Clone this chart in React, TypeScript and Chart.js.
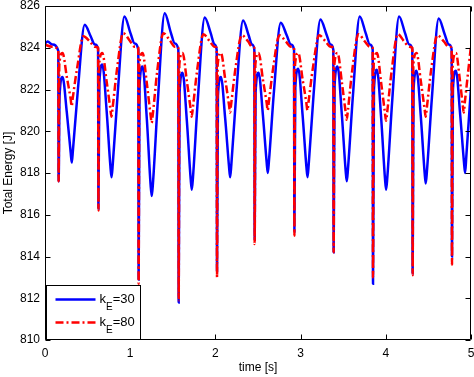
import React, { useEffect, useRef } from "react";
import { Chart, registerables } from "chart.js";

Chart.register(...registerables);

const FONT = '"Liberation Sans", Arial, Helvetica, sans-serif';

const xTickValues = [0, 1, 2, 3, 4, 5];
const yTickValues = [810, 812, 814, 816, 818, 820, 822, 824, 826];

const seriesLabels = ["30", "80"];

const blueTime = [
  0, 0.03, 0.09,
  0.156, 0.160, 0.171, 0.206, 0.256, 0.301, 0.314, 0.328, 0.386, 0.466, 0.536, 0.586,
  0.623, 0.627, 0.638, 0.673, 0.723, 0.768, 0.781, 0.795, 0.853, 0.933, 1.003, 1.053,
  1.095, 1.099, 1.110, 1.145, 1.195, 1.240, 1.253, 1.267, 1.325, 1.405, 1.475, 1.525,
  1.565, 1.569, 1.580, 1.615, 1.665, 1.710, 1.723, 1.737, 1.795, 1.875, 1.945, 1.990,
  2.015, 2.019, 2.030, 2.065, 2.115, 2.160, 2.173, 2.187, 2.245, 2.325, 2.390, 2.430,
  2.457, 2.461, 2.472, 2.507, 2.557, 2.602, 2.615, 2.629, 2.687, 2.767, 2.837, 2.887,
  2.923, 2.927, 2.938, 2.973, 3.023, 3.068, 3.081, 3.095, 3.153, 3.233, 3.303, 3.353,
  3.384, 3.388, 3.399, 3.434, 3.484, 3.529, 3.542, 3.556, 3.614, 3.694, 3.764, 3.814,
  3.846, 3.850, 3.861, 3.896, 3.946, 3.991, 4.004, 4.018, 4.076, 4.156, 4.226, 4.276,
  4.311, 4.315, 4.326, 4.361, 4.411, 4.456, 4.469, 4.483, 4.541, 4.621, 4.691, 4.741,
  4.773, 4.777, 4.788, 4.823, 4.873, 4.918, 4.931, 4.945, 5.0,
];

const blueEnergy = [
  824.2, 824.3, 824.15,
  823.85, 817.6, 821.7, 822.6, 820.9, 819.0, 818.5, 819.1, 822.0, 825.1, 824.55, 824.15,
  823.95, 816.3, 822.3, 823.2, 821.0, 818.3, 817.8, 818.4, 821.8, 825.5, 824.7, 824.2,
  823.9, 812.9, 822.2, 823.1, 820.6, 817.4, 816.9, 817.5, 821.5, 825.65, 824.75, 824.2,
  823.9, 811.8, 821.9, 822.8, 820.5, 817.7, 817.2, 817.8, 821.6, 825.45, 824.7, 824.15,
  823.9, 813.3, 821.7, 822.6, 820.6, 818.3, 817.8, 818.4, 821.8, 825.3, 824.6, 824.15,
  823.9, 814.8, 821.9, 822.8, 820.8, 818.5, 818.0, 818.6, 821.9, 825.2, 824.6, 824.15,
  823.9, 815.2, 822.1, 823.0, 820.8, 818.3, 817.8, 818.4, 821.8, 825.35, 824.65, 824.15,
  823.9, 814.2, 822.2, 823.1, 820.8, 818.1, 817.6, 818.2, 821.7, 825.5, 824.7, 824.15,
  823.9, 812.7, 822.0, 822.95, 820.6, 817.7, 817.2, 817.8, 821.5, 825.5, 824.7, 824.15,
  823.9, 813.2, 822.0, 822.9, 820.7, 818.0, 817.5, 818.1, 821.6, 825.4, 824.65, 824.15,
  823.9, 814.0, 822.0, 822.9, 820.8, 818.5, 818.0, 818.8, 822.1,
];

const redTime = [
  0, 0.08,
  0.156, 0.160, 0.168, 0.206, 0.256, 0.301, 0.313, 0.326, 0.376, 0.451, 0.526, 0.586,
  0.623, 0.627, 0.635, 0.673, 0.723, 0.768, 0.780, 0.793, 0.843, 0.918, 0.993, 1.053,
  1.095, 1.099, 1.107, 1.145, 1.195, 1.240, 1.252, 1.265, 1.315, 1.390, 1.465, 1.525,
  1.565, 1.569, 1.577, 1.615, 1.665, 1.710, 1.722, 1.735, 1.785, 1.860, 1.935, 1.990,
  2.015, 2.019, 2.027, 2.065, 2.115, 2.160, 2.172, 2.185, 2.235, 2.310, 2.385, 2.430,
  2.457, 2.461, 2.469, 2.507, 2.557, 2.602, 2.614, 2.627, 2.677, 2.752, 2.827, 2.887,
  2.923, 2.927, 2.935, 2.973, 3.023, 3.068, 3.080, 3.093, 3.143, 3.218, 3.293, 3.353,
  3.384, 3.388, 3.396, 3.434, 3.484, 3.529, 3.541, 3.554, 3.604, 3.679, 3.754, 3.814,
  3.846, 3.850, 3.858, 3.896, 3.946, 3.991, 4.003, 4.016, 4.066, 4.141, 4.216, 4.276,
  4.311, 4.315, 4.323, 4.361, 4.411, 4.456, 4.468, 4.481, 4.531, 4.606, 4.681, 4.741,
  4.773, 4.777, 4.785, 4.823, 4.868, 4.903, 4.915, 4.928, 5.0,
];

const redEnergy = [
  824.15, 824.05,
  823.9, 817.6, 823.2, 823.75, 822.6, 821.55, 821.2, 821.6, 823.0, 824.55, 824.3, 824.05,
  824.0, 816.2, 823.2, 823.75, 822.4, 821.05, 820.7, 821.1, 822.9, 824.7, 824.35, 824.05,
  824.0, 812.7, 823.2, 823.75, 822.3, 820.75, 820.4, 820.8, 822.8, 824.7, 824.35, 824.05,
  824.0, 811.9, 823.2, 823.75, 822.4, 821.05, 820.7, 821.1, 822.9, 824.65, 824.3, 824.05,
  824.0, 813.0, 823.2, 823.75, 822.5, 821.25, 820.9, 821.3, 823.0, 824.6, 824.3, 824.05,
  824.0, 814.6, 823.2, 823.75, 822.5, 821.35, 821.0, 821.4, 823.0, 824.6, 824.3, 824.05,
  824.0, 815.0, 823.2, 823.75, 822.5, 821.35, 821.0, 821.4, 823.0, 824.6, 824.3, 824.05,
  824.0, 814.2, 823.2, 823.75, 822.35, 820.9, 820.55, 820.95, 822.85, 824.65, 824.3, 824.05,
  824.0, 813.0, 823.2, 823.75, 822.3, 820.85, 820.5, 820.9, 822.8, 824.65, 824.3, 824.05,
  824.0, 813.1, 823.2, 823.75, 822.4, 821.05, 820.7, 821.1, 822.9, 824.6, 824.3, 824.05,
  824.0, 813.6, 823.2, 823.75, 822.5, 821.25, 820.9, 821.4, 824.1,
];

const BLUE = "rgb(0,0,255)";
const RED = "rgb(255,0,0)";
const RED_DASH = [8, 3, 2, 3];

const framePlugin = {
  id: "matlabFrame",
  afterDraw(chart: any) {
    const { ctx, chartArea: a, scales } = chart;
    const xs = scales.x;
    const ys = scales.y;
    ctx.save();
    ctx.strokeStyle = "#000";
    ctx.lineWidth = 1;
    const L = Math.round(a.left) + 0.5;
    const R = Math.round(a.right) - 0.5;
    const T = Math.round(a.top) + 0.5;
    const B = Math.round(a.bottom) - 0.5;
    ctx.beginPath();
    ctx.rect(L, T, R - L, B - T);
    ctx.stroke();
    const tl = 5;
    ctx.beginPath();
    xTickValues.forEach((v) => {
      const px = Math.round(xs.getPixelForValue(v)) + 0.5;
      ctx.moveTo(px, B);
      ctx.lineTo(px, B - tl);
      ctx.moveTo(px, T);
      ctx.lineTo(px, T + tl);
    });
    yTickValues.forEach((v) => {
      const py = Math.round(ys.getPixelForValue(v)) + 0.5;
      ctx.moveTo(L, py);
      ctx.lineTo(L + tl, py);
      ctx.moveTo(R, py);
      ctx.lineTo(R - tl, py);
    });
    ctx.stroke();

    // legend box
    const bx = L + 1;
    const by = Math.round(a.bottom) - 55 + 0.5;
    const bw = 94;
    const bh = B - by;
    ctx.fillStyle = "#fff";
    ctx.fillRect(bx, by, bw, bh);
    ctx.strokeStyle = "#000";
    ctx.lineWidth = 1;
    ctx.strokeRect(bx, by, bw, bh);

    const entries = [
      { color: BLUE, dash: [] as number[], label: seriesLabels[0], y: by + 14 },
      { color: RED, dash: RED_DASH, label: seriesLabels[1], y: by + 37 },
    ];
    entries.forEach((e) => {
      ctx.beginPath();
      ctx.setLineDash(e.dash);
      ctx.strokeStyle = e.color;
      ctx.lineWidth = 2.5;
      ctx.moveTo(bx + 9, e.y);
      ctx.lineTo(bx + 49, e.y);
      ctx.stroke();
      ctx.setLineDash([]);
      ctx.fillStyle = "#000";
      ctx.textBaseline = "alphabetic";
      ctx.textAlign = "left";
      const tx = bx + 53;
      const base = e.y + 3;
      ctx.font = `13px ${FONT}`;
      ctx.fillText("k", tx, base);
      const kw = ctx.measureText("k").width;
      ctx.font = `10px ${FONT}`;
      ctx.fillText("E", tx + kw, base + 7);
      const ew = ctx.measureText("E").width;
      ctx.font = `13px ${FONT}`;
      ctx.fillText("=" + e.label, tx + kw + ew, base);
    });
    ctx.restore();
  },
};

export default function App() {
  const ref = useRef<HTMLCanvasElement | null>(null);
  useEffect(() => {
    const canvas = ref.current;
    if (!canvas) return;
    const chart = new Chart(canvas, {
      type: "line",
      data: {
        datasets: [
          {
            label: "k_E=30",
            data: blueTime.map((t, i) => ({ x: t, y: blueEnergy[i] })),
            borderColor: BLUE,
            backgroundColor: BLUE,
            borderWidth: 2.5,
            pointRadius: 0,
            cubicInterpolationMode: "monotone",
            fill: false,
            order: 2,
          },
          {
            label: "k_E=80",
            data: redTime.map((t, i) => ({ x: t, y: redEnergy[i] })),
            borderColor: RED,
            backgroundColor: RED,
            borderWidth: 2.5,
            borderDash: RED_DASH,
            pointRadius: 0,
            cubicInterpolationMode: "monotone",
            fill: false,
            order: 1,
          },
        ],
      },
      options: {
        responsive: false,
        devicePixelRatio: 1,
        animation: false,
        layout: { padding: { top: 6, right: 3, left: 0, bottom: 0 } },
        plugins: { legend: { display: false }, tooltip: { enabled: false } },
        scales: {
          x: {
            type: "linear",
            min: 0,
            max: 5,
            grid: { display: false, drawTicks: false },
            border: { display: false },
            ticks: {
              stepSize: 1,
              padding: 6,
              color: "#000",
              font: { family: FONT, size: 12 },
              maxRotation: 0,
            },
            title: {
              display: true,
              text: "time [s]",
              color: "#000",
              font: { family: FONT, size: 12 },
              padding: { top: 0, bottom: 2 },
            },
            afterFit(scale: any) {
              scale.height = 37;
              scale.paddingLeft = 0;
              scale.paddingRight = 0;
            },
          },
          y: {
            type: "linear",
            min: 810,
            max: 826,
            grid: { display: false, drawTicks: false },
            border: { display: false },
            ticks: {
              stepSize: 2,
              padding: 5,
              color: "#000",
              font: { family: FONT, size: 12 },
            },
            title: {
              display: true,
              text: "Total Energy [J]",
              color: "#000",
              font: { family: FONT, size: 12 },
              padding: { top: 1, bottom: 0 },
            },
            afterFit(scale: any) {
              scale.width = 45;
              scale.paddingTop = 0;
              scale.paddingBottom = 0;
            },
          },
        },
      },
      plugins: [framePlugin],
    });
    return () => chart.destroy();
  }, []);
  return (
    <div style={{ position: "absolute", left: 0, top: 0, width: 474, height: 377, background: "#fff" }}>
      <canvas ref={ref} width={474} height={377} style={{ display: "block", width: 474, height: 377 }} />
    </div>
  );
}
